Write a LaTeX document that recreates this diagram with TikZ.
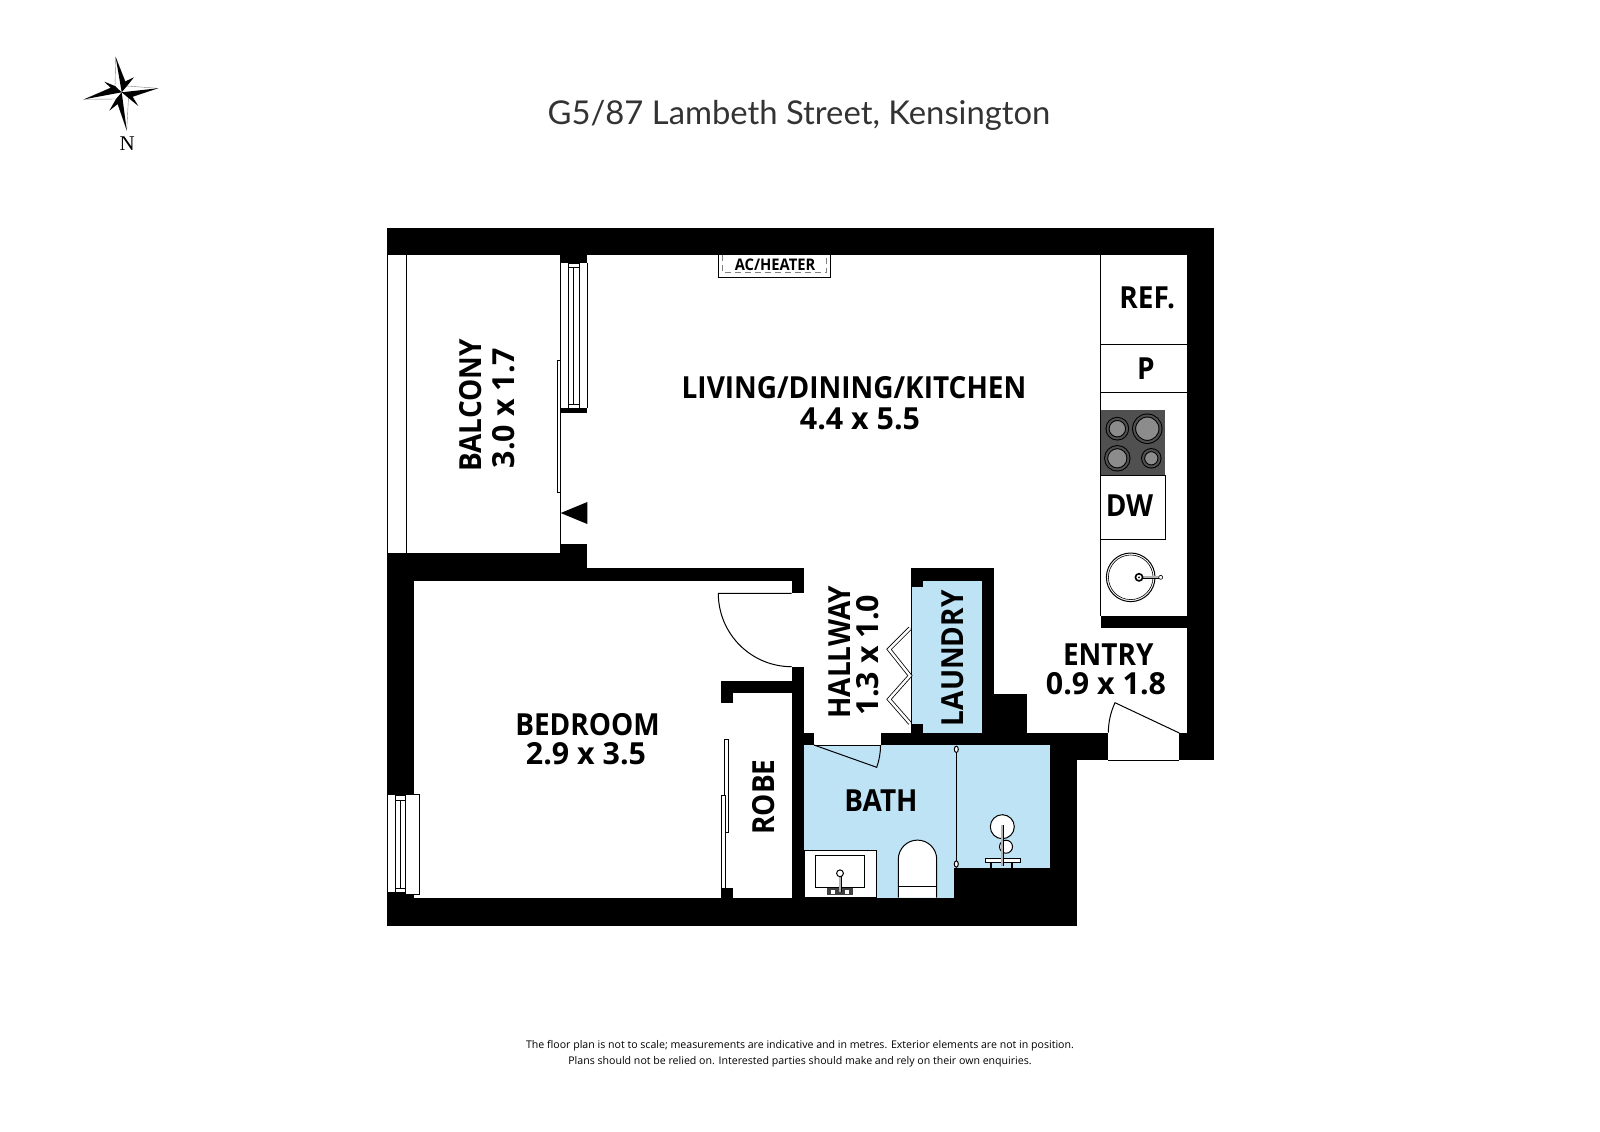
\documentclass[tikz,border=0pt]{standalone}
\usepackage{fontspec}
\setmainfont{Open Sans}
\newfontfamily\titlefont{Lato}
\newfontfamily\namefont[FakeStretch=0.92]{Open Sans}
\newfontfamily\northfont{Liberation Serif}
\usetikzlibrary{positioning}
\definecolor{wetarea}{HTML}{BDE3F5}
\definecolor{hob}{HTML}{505050}
\definecolor{ring}{HTML}{8C8C8C}

\begin{document}
\begin{tikzpicture}[
    x=0.5pt, y=-0.5pt,
    wall/.style={fill=black},
    wet/.style={fill=wetarea},
    thinline/.style={draw=black, line width=0.5pt},
    glass/.style={draw=black, line width=0.4pt, fill=white},
    bifold/.style={draw=black, line width=0.4pt, double=white, double distance=1.2pt},
    pipe/.style={draw=black, line width=0.3pt, double=gray!60, double distance=0.9pt},
    sizelabel/.style={font=\bfseries\fontsize{15.2}{15.2}\selectfont, inner sep=0pt},
    roomlabel/.style={font=\namefont\bfseries\fontsize{15.2}{15.2}\selectfont, inner sep=0pt},
    tinylabel/.style={font=\namefont\bfseries\fontsize{8}{8}\selectfont, inner sep=0pt},
    notelabel/.style={font=\fontsize{5.3}{5.3}\selectfont, inner sep=0pt},
    burner/.style={draw=black, line width=0.5pt, double=hob, double distance=1pt, fill=ring}
]
\useasboundingbox (0,0) rectangle (1600,1131);

% Heading
\node[font=\titlefont\fontsize{16.4}{16.4}\selectfont, inner sep=0pt, text=black!80] (title) at (799,115) {G5/87 Lambeth Street, Kensington};

% Compass
\draw[line width=0.2pt, draw=gray, fill=white] (115.7,57.3) -- (127,86) -- (157.7,88.3) -- (128.5,98) -- (126.7,130) -- (116,99) -- (84.3,99.3) -- (115,86) -- cycle;
\fill[black] (115.7,57.3) -- (127,86) -- (121.7,92.3) -- cycle;
\fill[black] (157.7,88.3) -- (128.5,98) -- (121.7,92.3) -- cycle;
\fill[black] (126.7,130) -- (116,99) -- (121.7,92.3) -- cycle;
\fill[black] (84.3,99.3) -- (115,86) -- (121.7,92.3) -- cycle;
\fill[black] (134,77.3) -- (127,86) -- (124,82) -- cycle;
\fill[black] (138.3,106) -- (128.5,98) -- (131,94) -- cycle;
\fill[black] (109.3,110.7) -- (116,99) -- (119,103) -- cycle;
\fill[black] (104.3,81.7) -- (115,86) -- (113,90) -- cycle;
\node[font=\northfont\fontsize{10.5}{10.5}\selectfont, inner sep=0pt] (north) at (127.3,144) {N};

% Wet areas
\fill[wet] (911,581) rectangle (981.7,733);
\fill[wet] (804.3,745) rectangle (1050,897.7);

% Outer and party walls
\fill[wall] (387,227.5) rectangle (1214.3,255);
\fill[wall] (1186.7,255) rectangle (1214.3,760);
\fill[wall] (1100.7,615.7) rectangle (1186.7,628.3);
\fill[wall] (387,553) rectangle (414.3,795);
\fill[wall] (387,553) rectangle (560,581);
\fill[wall] (387,892.3) rectangle (414.3,925.5);
\fill[wall] (387,897.7) rectangle (1077.3,925.5);
\fill[wall] (1050,745) rectangle (1077.3,925.5);
\fill[wall] (954,868.3) rectangle (1050,897.7);
\fill[wall] (1050,732.7) rectangle (1108.3,760);
\fill[wall] (1179.3,732.7) rectangle (1190,760);

% Balcony side
\fill[wall] (560,255) rectangle (587.3,262.7);
\fill[wall] (560,408) rectangle (587.3,412.7);
\fill[wall] (560,544) rectangle (587.3,568.3);
\fill[wall] (414,568.3) rectangle (804.3,581);
\fill[wall] (560.7,513) -- (587.3,502) -- (587.3,524) -- cycle;

% Bedroom, robe and hall walls
\fill[wall] (791.7,581) rectangle (804.3,593.3);
\fill[wall] (791.7,666.7) rectangle (804.3,897.7);
\fill[wall] (720.7,681) rectangle (791.7,693.3);
\fill[wall] (720.7,693.3) rectangle (733,703.3);
\fill[wall] (720.7,887.7) rectangle (733.3,897.7);
\fill[wall] (804.3,732.7) rectangle (814,745);

% Laundry walls
\fill[wall] (910.7,568.3) rectangle (994,581);
\fill[wall] (981.7,581) rectangle (994,695);
\fill[wall] (981.7,694.3) rectangle (1026.7,733);
\fill[wall] (910.7,581) rectangle (922.7,587.3);
\fill[wall] (910.7,724) rectangle (922.7,733);
\fill[wall] (881,732.7) rectangle (1050,745);

% Balcony edge and sliding door
\draw[thinline] (387,255) -- (387,553);
\draw[thinline] (406.5,255) -- (406.5,553);
\draw[thinline] (560.3,255) -- (560.3,553);
\draw[thinline] (587.3,262.7) -- (587.3,408);
\draw[glass] (568.3,263) rectangle (579,408);
\draw[thinline] (573.6,267) -- (573.6,404);
\draw[thinline] (568.3,267) -- (579,267);
\draw[thinline] (568.3,404) -- (579,404);
\draw[glass] (557.3,360) rectangle (560.3,492);

% Bedroom window
\draw[glass] (405.7,794) rectangle (419.7,894);
\draw[thinline] (387,795) -- (387,892.3);
\draw[glass] (395.7,795) rectangle (405.7,892.3);
\draw[thinline] (400.7,800) -- (400.7,888.3);
\draw[thinline] (395.7,800) -- (405.7,800);
\draw[thinline] (395.7,888.3) -- (405.7,888.3);

% Doors
\draw[thinline] (791.7,593.3) -- (718.3,593.3) arc[start angle=180, end angle=90, radius=73.4];
\draw[thinline] (1179.3,733) -- (1115,702.7) arc[start angle=205, end angle=180, radius=71];
\draw[thinline] (814,745) -- (876.7,767.3) arc[start angle=19.6, end angle=0, radius=66.5];
\draw[thinline] (814,745) -- (881,745);
\draw[thinline] (1108.3,760) -- (1179.3,760);

% Robe sliders
\draw[glass] (724,739.3) rectangle (728.3,832.3);
\draw[glass] (721.7,795) rectangle (725,888);

% Laundry bifold
\draw[thinline] (911,587.3) -- (911,724);
\draw[bifold] (910,628.3) -- (889,649.3) -- (910,675.7) -- (889,699.3) -- (910,723.3);

% Kitchen joinery
\draw[thinline] (1100.7,255) -- (1100.7,615.7);
\draw[thinline] (1100.7,344.3) -- (1186.7,344.3);
\draw[thinline] (1100.7,392) -- (1186.7,392);
\fill[hob] (1100.7,410) rectangle (1165.3,475);
\draw[thinline, fill=white] (1100.7,475) rectangle (1165.3,539);
\draw[burner] (1117.3,428.7) circle[radius=9.8];
\draw[burner] (1147.3,428.7) circle[radius=13.2];
\draw[burner] (1117.3,458.3) circle[radius=11.2];
\draw[burner] (1151.3,458.3) circle[radius=8.2];

% Sink
\draw[thinline] (1130.7,577.3) circle[radius=24.3];
\draw[line width=0.3pt] (1130.7,577.3) circle[radius=22.3];
\draw[pipe] (1139,577.3) -- (1160.7,577.3);
\draw[thinline, line width=0.8pt, fill=white] (1139,577.3) circle[radius=3.6];
\fill[black] (1139,577.3) circle[radius=1];
\draw[line width=0.3pt, fill=white] (1160.7,577.3) circle[radius=2];

% AC unit
\draw[thinline, fill=white] (718.3,255) -- (718.3,277.3) -- (830.7,277.3) -- (830.7,255);
\draw[line width=0.3pt, densely dashed, draw=gray] (722.3,255) -- (722.3,272.3) -- (826.7,272.3) -- (826.7,255);

% Bath fittings
\draw[thinline] (956.3,749.3) -- (956.3,864);
\draw[thinline, fill=white] (956.3,749.3) ellipse[x radius=2, y radius=3.2];
\draw[thinline, fill=white] (956.3,864) ellipse[x radius=2, y radius=3.2];
\draw[thinline, fill=white] (804.3,850) rectangle (876.7,897.7);
\draw[thinline, fill=white] (815.7,855.7) rectangle (864.3,887.3);
\fill[black!75] (826.7,888) rectangle (853.3,895);
\fill[white] (831,890) rectangle (835,893.5);
\fill[white] (845,890) rectangle (849,893.5);
\draw[pipe] (840,873.3) -- (840,892);
\draw[thinline, fill=white] (840,873.3) circle[radius=3.4];
\draw[thinline, fill=white] (898.3,897.7) -- (898.3,859.3) arc[start angle=180, end angle=360, radius=19.2] -- (936.7,897.7);
\draw[thinline] (898.3,886.7) -- (936.7,886.7);
\draw[thinline, fill=white] (1002.3,826.7) circle[radius=12];
\draw[thinline, fill=white] (1006,846.7) circle[radius=6.5];
\draw[thinline, fill=white] (985.7,858.3) rectangle (1020,862.3);
\draw[pipe] (1002.3,825) -- (1002.3,866);
\draw[thinline, line width=1pt] (991,862) -- (991,868);
\draw[thinline, line width=1pt] (1012,862) -- (1012,868);

% Labels
\node[roomlabel] (living) at (854,388) {LIVING/DINING/KITCHEN};
\node[sizelabel] (livingsize) at (860,419) {4.4 x 5.5};
\node[roomlabel, rotate=90] (balcony) at (470.7,405.5) {BALCONY};
\node[sizelabel, rotate=90] (balconysize) at (504,408) {3.0 x 1.7};
\node[roomlabel] (ref) at (1147.3,298.3) {REF.};
\node[roomlabel] (pantry) at (1146,368.3) {P};
\node[roomlabel] (dw) at (1129.5,505.7) {DW};
\node[roomlabel, rotate=90] (hallway) at (840,652.2) {HALLWAY};
\node[sizelabel, rotate=90] (hallwaysize) at (867.7,655) {1.3 x 1.0};
\node[roomlabel, rotate=90] (laundry) at (952.3,658.2) {LAUNDRY};
\node[roomlabel] (entry) at (1108.3,654.7) {ENTRY};
\node[sizelabel] (entrysize) at (1106,683.7) {0.9 x 1.8};
\node[roomlabel] (bedroom) at (587.5,725) {BEDROOM};
\node[sizelabel] (bedroomsize) at (586,753.5) {2.9 x 3.5};
\node[roomlabel, rotate=90] (robe) at (764,797) {ROBE};
\node[roomlabel] (bath) at (881,801) {BATH};
\node[tinylabel] (acheater) at (775,265) {AC/HEATER};

% Footnote
\node[notelabel] (noteone) at (800,1046) {The floor plan is not to scale; measurements are indicative and in metres. Exterior elements are not in position.};
\node[notelabel] (notetwo) at (800,1062) {Plans should not be relied on. Interested parties should make and rely on their own enquiries.};

\end{tikzpicture}
\end{document}
